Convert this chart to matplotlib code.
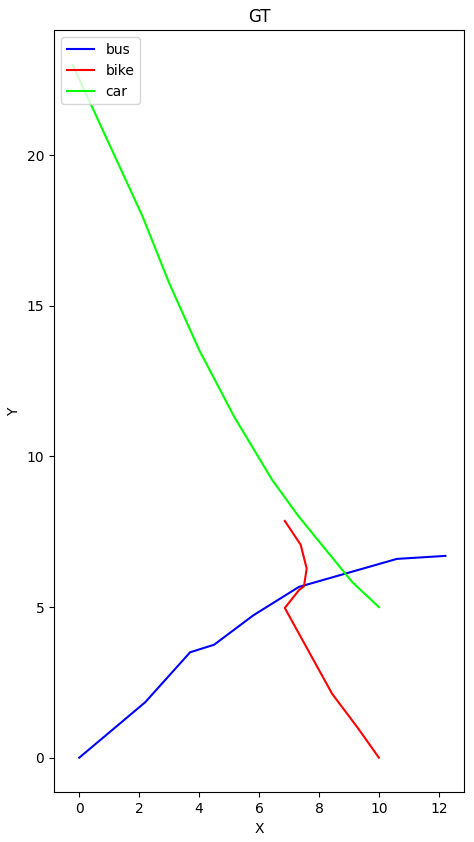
import matplotlib
matplotlib.use("Agg")
import matplotlib.pyplot as plt

# trajectories
bus_x = [0.0, 2.2, 3.7, 4.5, 5.8, 7.33, 10.6, 12.22]
bus_y = [0.0, 1.84, 3.5, 3.75, 4.72, 5.67, 6.6, 6.7]

bike_x = [6.86, 7.39, 7.59, 7.5, 7.33, 6.86, 8.44, 9.28, 10.0]
bike_y = [7.86, 7.07, 6.28, 5.69, 5.56, 4.97, 2.12, 1.01, 0.0]

car_x = [-0.22, 2.1, 3.0, 4.0, 5.17, 6.44, 7.33, 8.83, 9.11, 10.0]
car_y = [23.0, 18.0, 15.76, 13.54, 11.32, 9.22, 8.0, 6.17, 5.83, 5.0]

fig, ax = plt.subplots(figsize=(4.74, 8.42), dpi=100)
fig.subplots_adjust(left=0.114, right=0.979, bottom=0.059, top=0.964)

ax.plot(bus_x, bus_y, color="blue", label="bus")
ax.plot(bike_x, bike_y, color="red", label="bike")
ax.plot(car_x, car_y, color="lime", label="car")

ax.set_title("GT")
ax.set_xlabel("X")
ax.set_ylabel("Y")
ax.legend(loc="upper left")

fig.savefig("out.png", dpi=100)
